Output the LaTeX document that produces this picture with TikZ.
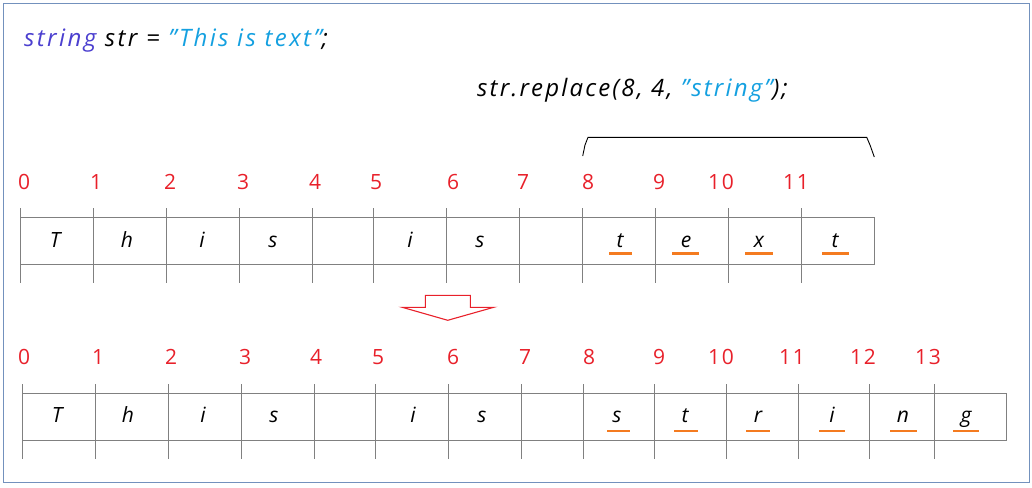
\documentclass[tikz,border=0pt]{standalone}
\usepackage{fontspec}
\setmainfont{Open Sans}
\definecolor{frameblue}{HTML}{7391BD}
\definecolor{kwblue}{HTML}{4B3FCF}
\definecolor{strblue}{HTML}{14A0E0}
\definecolor{idxred}{HTML}{E8202A}
\definecolor{ulorange}{HTML}{F47B20}
\definecolor{gridgray}{HTML}{808080}
\tikzset{
  idx/.style={anchor=base west, text=idxred, font=\fontsize{21}{21}\selectfont\addfontfeature{LetterSpace=8}, inner sep=0pt},
  cell/.style={anchor=base, text=black, font=\fontsize{21}{21}\selectfont\itshape, inner sep=0pt},
  code/.style={anchor=base west, font=\fontsize{24}{24}\selectfont\itshape, inner sep=0pt},
  grid/.style={draw=gridgray, line width=1.2pt},
  uline/.style={draw=ulorange, line width=2.4pt},
  redarrow/.style={draw=idxred, line width=1.1pt}
}
\begin{document}
\begin{tikzpicture}[x=1pt,y=-1pt]
\useasboundingbox (0,0) rectangle (1032,487);
\draw[frameblue, line width=1.2pt] (3.3,3.3) rectangle (1029.3,482.3);
% code lines
\node[code] (decl) at (24,46) {\addfontfeature{LetterSpace=10}\textcolor{kwblue}{string} str = \textcolor{strblue}{"This is text"};};
\node[code] (call) at (477,96) {\addfontfeature{LetterSpace=9}str.replace(8, 4, \textcolor{strblue}{"string"});};
% brace
\draw[black, line width=0.9pt] (582.7,156) -- (585,145) -- (588,137.3) -- (866.7,137.3) -- (870,145) -- (874.3,157);
% top table
\foreach \x in {20.5,93.5,166.5,239.5,312.5,373.5,446.5,519.5,582.5,655.5,728.5,801.5}
  \draw[grid] (\x,208.3) -- (\x,283.3);
\draw[grid] (20.5,217.5) -- (874.5,217.5) -- (874.5,264.5) -- (20.5,264.5);
\foreach \x/\n [count=\i] in {18/0,90/1,164/2,237/3,309/4,370/5,447/6,517/7,582/8,653/9,708/10,783/11}
  \node[idx] (ta\i) at (\x,189) {\n};
\foreach \x/\c [count=\i] in {55/T,127/h,202/i,273/s,410/i,480/s,620/t,686/e,759/x,835/t}
  \node[cell] (tc\i) at (\x,247) {\c};
\foreach \a/\b in {609/632,672/699,745/773,822/849}
  \draw[uline] (\a,253.5) -- (\b,253.5);
% arrow
\draw[redarrow] (425.3,307.3) -- (425.3,295.3) -- (470.3,295.3) -- (470.3,307.3) -- (493.7,307.3) -- (447.7,320.3) -- (402.3,307.3) -- cycle;
% bottom table
\foreach \x in {22.5,95.5,168.5,241.5,314.5,375.5,448.5,521.5,583.5,654.5,726.5,798.5,869.5,934.5}
  \draw[grid] (\x,384) -- (\x,459.3);
\draw[grid] (22.5,393.5) -- (1006.5,393.5) -- (1006.5,440.5) -- (22.5,440.5);
\foreach \x/\n [count=\i] in {18/0,92/1,165/2,239/3,310/4,372/5,447/6,519/7,583/8,653/9,708/10,779/11,850/12,915/13}
  \node[idx] (ba\i) at (\x,364) {\n};
\foreach \x/\c [count=\i] in {57/T,128/h,203/i,274/s,413/i,482/s,617/s,685/t,758/r,832/i,903/n,966/g}
  \node[cell] (bc\i) at (\x,422) {\c};
\foreach \a/\b in {607/630,674/698,746/770,819/845,890/917,953/979}
  \draw[uline] (\a,431) -- (\b,431);
\end{tikzpicture}
\end{document}
